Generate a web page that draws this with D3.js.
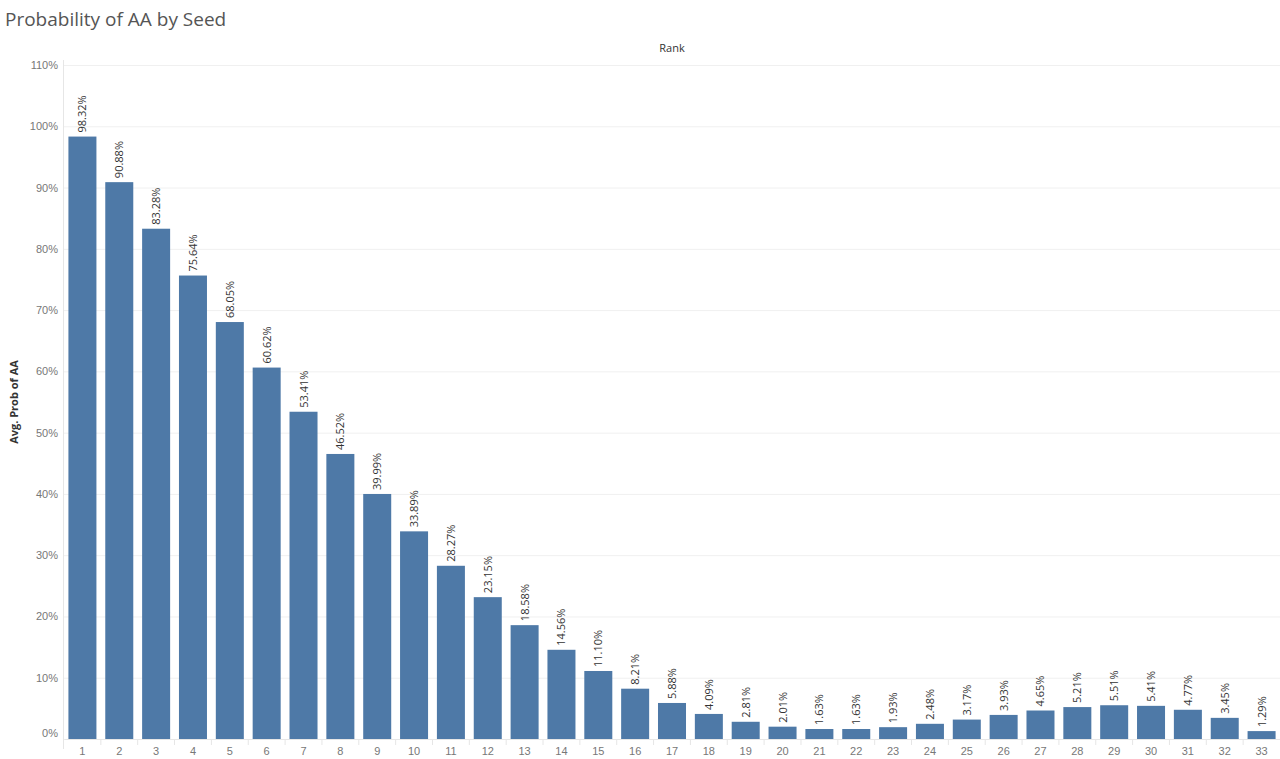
<!DOCTYPE html>
<html>
<head>
<meta charset="utf-8">
<script src="https://cdn.jsdelivr.net/npm/d3@7"></script>
<style>
  body { margin: 0; background: #fff; font-family: "Open Sans", "Noto Sans", sans-serif; }
  .title { font-size: 19px; fill: #555; }
  .grid line { stroke: #f0f0f0; }
  .grid path { stroke: none; }
  .yaxis text, .xaxis text { fill: #777; font-size: 11px; }
  .bar { fill: #4e79a7; }
  .lbl { font-size: 11px; fill: #333; }
</style>
</head>
<body>
<svg id="chart"></svg>
<script>
"use strict";
const ranks = d3.range(1, 34);
const probs = [98.32, 90.88, 83.28, 75.64, 68.05, 60.62, 53.41, 46.52, 39.99, 33.89,
    28.27, 23.15, 18.58, 14.56, 11.10, 8.21, 5.88, 4.09, 2.81, 2.01,
    1.63, 1.63, 1.93, 2.48, 3.17, 3.93, 4.65, 5.21, 5.51, 5.41,
    4.77, 3.45, 1.29];
const yTicks = d3.range(0, 1.11, 0.1);

const W = 1280, H = 759;
const margin = {top: 65, right: 0, bottom: 20, left: 64};
const width = W - margin.left - margin.right,
      height = 739 - margin.top;

const svg = d3.select("#chart").attr("width", W).attr("height", H);

svg.append("text").attr("class", "title")
    .attr("x", 5).attr("y", 26)
    .text("Probability of AA by Seed");

svg.append("text")
    .attr("x", margin.left + width / 2).attr("y", 52)
    .attr("text-anchor", "middle")
    .style("font-size", "11px").style("fill", "#333")
    .text("Rank");

const g = svg.append("g")
    .attr("transform", `translate(${margin.left},${margin.top})`);

const x = d3.scaleBand().domain(ranks).range([0, width]).paddingInner(0.24).paddingOuter(0.12);
const y = d3.scaleLinear().domain([0, 1.1]).range([height, 0]);

// gridlines
g.append("g").attr("class", "grid")
    .call(d3.axisLeft(y).tickValues(yTicks).tickSize(-width).tickFormat(""));

// y axis line
g.append("line").attr("x1", -0.5).attr("x2", -0.5).attr("y1", -5).attr("y2", height + 10)
    .attr("stroke", "#e6e6e6");

const yAxis = g.append("g").attr("class", "yaxis")
    .call(d3.axisLeft(y).tickValues(yTicks).tickSize(0).tickPadding(6)
        .tickFormat(d => Math.round(d * 100) + "%"));
yAxis.select(".domain").remove();
// bottom label sits a bit higher, like the original
yAxis.selectAll(".tick").filter(d => d === 0).select("text").attr("dy", "-0.2em");

// bars
g.selectAll(".bar").data(probs).enter().append("rect")
    .attr("class", "bar")
    .attr("x", (d, i) => x(ranks[i]))
    .attr("width", x.bandwidth())
    .attr("y", d => y(d / 100))
    .attr("height", d => height - y(d / 100));

// value labels
g.selectAll(".lbl").data(probs).enter().append("text")
    .attr("class", "lbl")
    .attr("transform", (d, i) => `translate(${x(ranks[i]) + x.bandwidth() / 2 + 4},${y(d / 100) - 4}) rotate(-90)`)
    .text(d => d.toFixed(2) + "%");

// x axis
const xAxis = g.append("g").attr("class", "xaxis")
    .attr("transform", `translate(0,${height})`)
    .call(d3.axisBottom(x).tickSize(0).tickPadding(8));
xAxis.select(".domain").attr("stroke", "#e6e6e6");
// separators between bands
g.append("g").selectAll("line").data(ranks.slice(1)).enter().append("line")
    .attr("x1", d => x(d) - x.step() * x.paddingInner() / 2)
    .attr("x2", d => x(d) - x.step() * x.paddingInner() / 2)
    .attr("y1", height).attr("y2", height + 6)
    .attr("stroke", "#e6e6e6");

// y axis title
svg.append("text")
    .attr("transform", `translate(18,${margin.top + height / 2}) rotate(-90)`)
    .attr("text-anchor", "middle")
    .style("font-size", "11px").style("font-weight", "bold").style("fill", "#333")
    .text("Avg. Prob of AA");
</script>
</body>
</html>
